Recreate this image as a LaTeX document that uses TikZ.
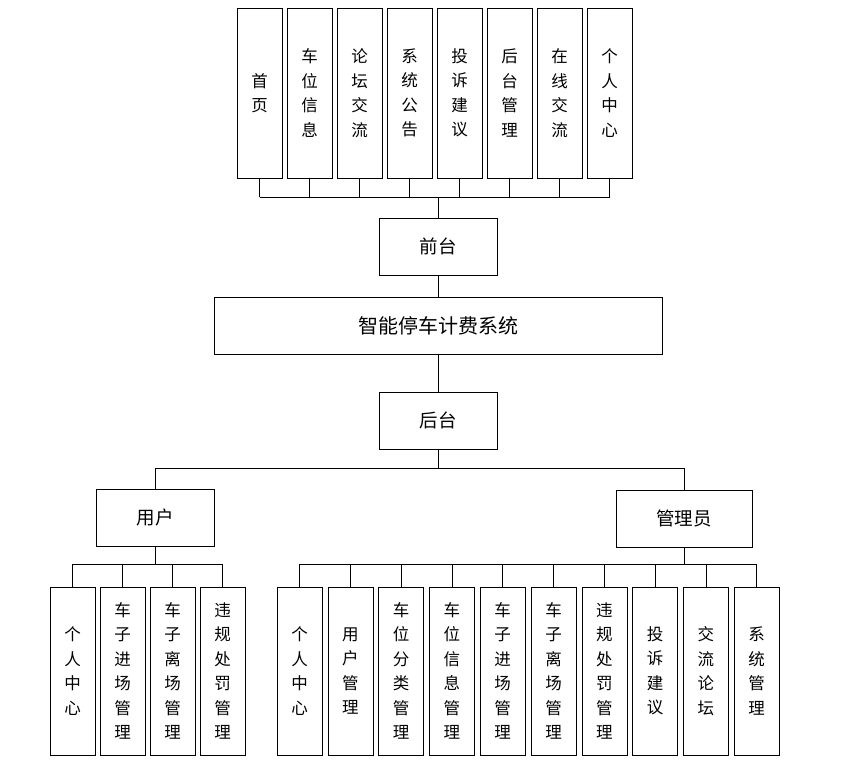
\documentclass[tikz,border=0pt]{standalone}
\usepackage{fontspec}
\newfontfamily\cjk{Noto Sans CJK SC}
\begin{document}
\begin{tikzpicture}[x=1pt,y=-1pt,
  bx/.style={draw,line width=0.6pt,inner sep=0pt,font=\cjk\fontsize{16.5}{24.5}\selectfont,align=center},
  ln/.style={line width=0.6pt}]
\useasboundingbox (0,0) rectangle (846,765);
\fill[white] (0,0) rectangle (846,765);
% top boxes
\foreach \t [count=\i] in {首\\页,车\\位\\信\\息,论\\坛\\交\\流,系\\统\\公\\告,投\\诉\\建\\议,后\\台\\管\\理,在\\线\\交\\流,个\\人\\中\\心}{
  \node[bx,minimum width=45pt,minimum height=170pt] (t\i) at ({259.5+50*(\i-1)},93) {\t};
  \draw[ln] (t\i.south) -- ++(0,19);
}
\draw[ln] (t1.south |- 0,197) -- (t8.south |- 0,197);
\node[bx,minimum width=118pt,minimum height=57pt,font=\cjk\fontsize{18.5}{20}\selectfont] (front) at (438,246.5) {前台};
\node[bx,minimum width=448pt,minimum height=57pt,font=\cjk\fontsize{20}{22}\selectfont] (sys) at (438,325.5) {智能停车计费系统};
\node[bx,minimum width=118pt,minimum height=57pt,font=\cjk\fontsize{18.5}{20}\selectfont] (back) at (438,420.5) {后台};
\draw[ln] (front.north) -- (438,197);
\draw[ln] (front.south) -- (sys.north);
\draw[ln] (sys.south) -- (back.north);
\node[bx,minimum width=118pt,minimum height=57pt,font=\cjk\fontsize{18.5}{20}\selectfont] (user) at (155,517.5) {用户};
\node[bx,minimum width=136pt,minimum height=57pt,font=\cjk\fontsize{18.5}{20}\selectfont] (admin) at (684,518.5) {管理员};
\coordinate (hb) at (438,468);
\draw[ln] (back.south) -- (hb);
\draw[ln] (user.north) -- (155,468) -- (684,468) -- (admin.north);
% user children
\foreach \t [count=\i] in {个\\人\\中\\心,车\\子\\进\\场\\管\\理,车\\子\\离\\场\\管\\理,违\\规\\处\\罚\\管\\理}{
  \node[bx,minimum width=45pt,minimum height=168pt] (u\i) at ({72.5+50*(\i-1)},671) {\t};
  \draw[ln] (u\i.north) -- ++(0,-23);
}
\draw[ln] (u1.north |- 0,564) -- (u4.north |- 0,564);
\draw[ln] (user.south) -- (155,564);
% admin children
\foreach \t [count=\i] in {个\\人\\中\\心,用\\户\\管\\理,车\\位\\分\\类\\管\\理,车\\位\\信\\息\\管\\理,车\\子\\进\\场\\管\\理,车\\子\\离\\场\\管\\理,违\\规\\处\\罚\\管\\理,投\\诉\\建\\议,交\\流\\论\\坛,系\\统\\管\\理}{
  \node[bx,minimum width=45pt,minimum height=168pt] (a\i) at ({299.5+50.8*(\i-1)},671) {\t};
  \draw[ln] (a\i.north) -- ++(0,-23);
}
\draw[ln] (a1.north |- 0,564) -- (a10.north |- 0,564);
\draw[ln] (admin.south) -- (684,564);
\end{tikzpicture}
\end{document}
